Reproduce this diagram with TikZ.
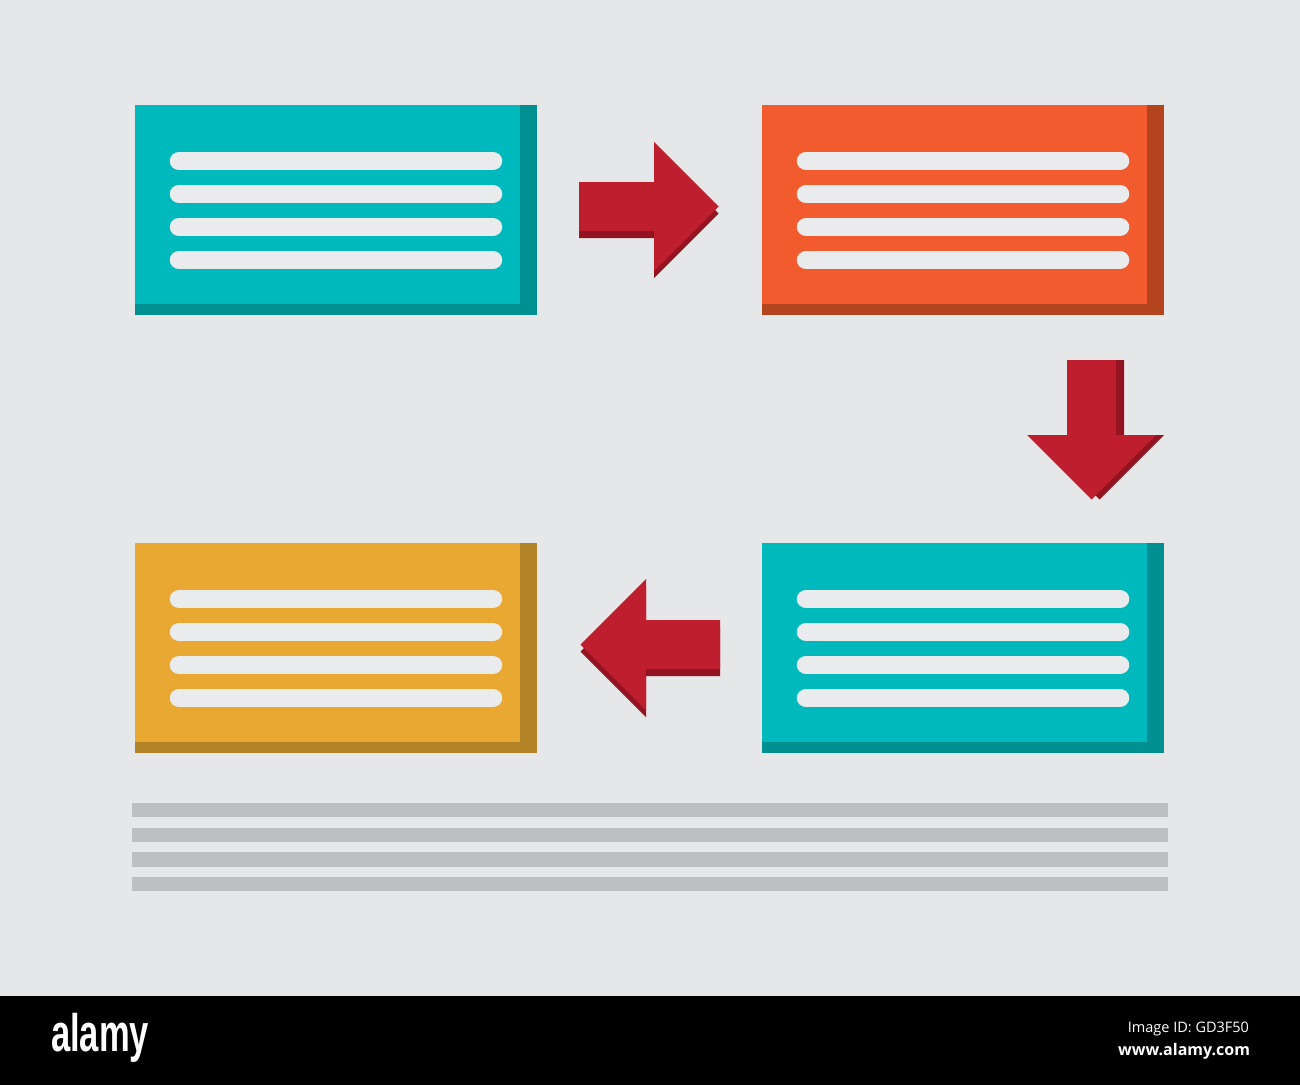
\documentclass[tikz,border=0pt]{standalone}
\usepackage{fontspec}
\setmainfont{Open Sans}
\newfontfamily\logofont{Liberation Sans}
\usepackage{graphicx}
\newlength{\du}
\setlength{\du}{1pt}
\definecolor{bgcolor}{rgb}{0.902, 0.906, 0.910}
\definecolor{linecolor}{rgb}{0.914, 0.922, 0.929}
\definecolor{barcolor}{rgb}{0.745, 0.749, 0.757}
\definecolor{tealface}{rgb}{0.000, 0.725, 0.741}
\definecolor{tealshade}{rgb}{0.000, 0.565, 0.569}
\definecolor{orangeface}{rgb}{0.945, 0.357, 0.176}
\definecolor{orangeshade}{rgb}{0.706, 0.267, 0.118}
\definecolor{yellowface}{rgb}{0.910, 0.659, 0.196}
\definecolor{yellowshade}{rgb}{0.694, 0.514, 0.149}
\definecolor{redface}{rgb}{0.745, 0.118, 0.176}
\definecolor{redshade}{rgb}{0.569, 0.078, 0.125}
\tikzset{
  panel/.style={rectangle, inner sep=0pt, outer sep=0pt, minimum width=385\du, minimum height=199\du},
  textline/.style={draw=linecolor, line width=18.5\du, line cap=round},
  greybar/.style={fill=barcolor},
}

\begin{document}
\begin{tikzpicture}
\pgftransformxscale{1.000000}
\pgftransformyscale{-1.000000}
\useasboundingbox (0\du,0\du) rectangle (1300\du,1085\du);
\fill[bgcolor] (0\du,0\du) rectangle (1300\du,996\du);
\fill[black] (0\du,996\du) rectangle (1300\du,1085\du);
% step one
\fill[tealshade] (135\du,105\du) rectangle (537\du,315\du);
\node[panel, fill=tealface] (stepone) at (327.5\du,204.5\du) {};
\draw[textline] (179\du,161\du)--(493\du,161\du);
\draw[textline] (179\du,194\du)--(493\du,194\du);
\draw[textline] (179\du,227\du)--(493\du,227\du);
\draw[textline] (179\du,260\du)--(493\du,260\du);
% step two
\fill[orangeshade] (762\du,105\du) rectangle (1164\du,315\du);
\node[panel, fill=orangeface] (steptwo) at (954.5\du,204.5\du) {};
\draw[textline] (806\du,161\du)--(1120\du,161\du);
\draw[textline] (806\du,194\du)--(1120\du,194\du);
\draw[textline] (806\du,227\du)--(1120\du,227\du);
\draw[textline] (806\du,260\du)--(1120\du,260\du);
% step three
\fill[tealshade] (762\du,543\du) rectangle (1164\du,753\du);
\node[panel, fill=tealface] (stepthree) at (954.5\du,642.5\du) {};
\draw[textline] (806\du,599\du)--(1120\du,599\du);
\draw[textline] (806\du,632\du)--(1120\du,632\du);
\draw[textline] (806\du,665\du)--(1120\du,665\du);
\draw[textline] (806\du,698\du)--(1120\du,698\du);
% step four
\fill[yellowshade] (135\du,543\du) rectangle (537\du,753\du);
\node[panel, fill=yellowface] (stepfour) at (327.5\du,642.5\du) {};
\draw[textline] (179\du,599\du)--(493\du,599\du);
\draw[textline] (179\du,632\du)--(493\du,632\du);
\draw[textline] (179\du,665\du)--(493\du,665\du);
\draw[textline] (179\du,698\du)--(493\du,698\du);
% arrow right
\fill[redshade] (579\du,189\du)--(654\du,189\du)--(654\du,149\du)--(718.5\du,213.5\du)--(654\du,278\du)--(654\du,238\du)--(579\du,238\du)--cycle;
\fill[redface] (579\du,182\du)--(654\du,182\du)--(654\du,142\du)--(718.5\du,206.5\du)--(654\du,271\du)--(654\du,231\du)--(579\du,231\du)--cycle;
% arrow down
\fill[redshade] (1075\du,360\du)--(1124\du,360\du)--(1124\du,435\du)--(1164\du,435\du)--(1099.5\du,499.5\du)--(1035\du,435\du)--(1075\du,435\du)--cycle;
\fill[redface] (1067\du,360\du)--(1116\du,360\du)--(1116\du,435\du)--(1156\du,435\du)--(1091.5\du,499.5\du)--(1027\du,435\du)--(1067\du,435\du)--cycle;
% arrow left
\fill[redshade] (720\du,627\du)--(646\du,627\du)--(646\du,586\du)--(580.5\du,651.5\du)--(646\du,717\du)--(646\du,676\du)--(720\du,676\du)--cycle;
\fill[redface] (720\du,620\du)--(646\du,620\du)--(646\du,579\du)--(580.5\du,644.5\du)--(646\du,710\du)--(646\du,669\du)--(720\du,669\du)--cycle;
% bars under the panels
\fill[greybar] (132\du,803\du) rectangle (1168\du,817\du);
\fill[greybar] (132\du,828\du) rectangle (1168\du,842\du);
\fill[greybar] (132\du,852\du) rectangle (1168\du,867\du);
\fill[greybar] (132\du,877\du) rectangle (1168\du,891\du);
% footer
\node[anchor=base west, inner sep=0pt, outer sep=0pt, color=white] (logo) at (51\du,1051\du){\scalebox{0.72}[1.1]{\logofont\bfseries\fontsize{48}{48}\selectfont alamy}};
\node[anchor=base east, inner sep=0pt, outer sep=0pt, color=white] (imageid) at (1249\du,1032\du){\fontsize{14.5}{14.5}\selectfont Image ID: GD3F50};
\node[anchor=base east, inner sep=0pt, outer sep=0pt, color=white] (weburl) at (1250\du,1055\du){\fontsize{16}{16}\selectfont\bfseries www.alamy.com};
\end{tikzpicture}
\end{document}
